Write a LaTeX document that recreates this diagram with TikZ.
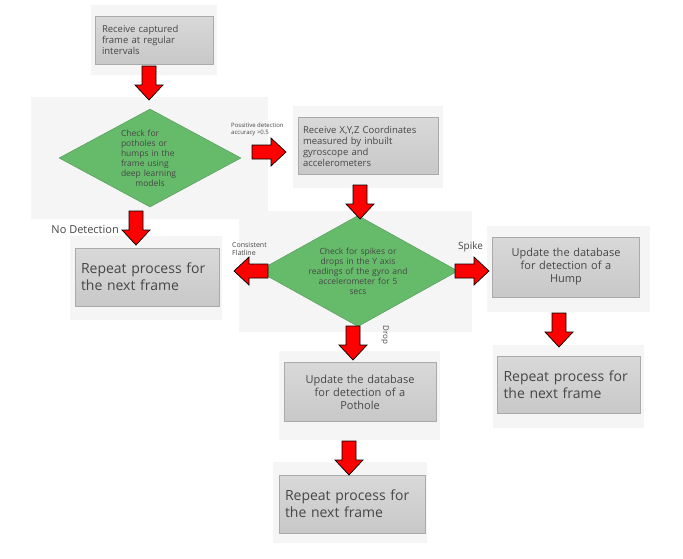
\documentclass[tikz,border=0pt]{standalone}
\usepackage{fontspec}
\setmainfont{Open Sans}
\usetikzlibrary{shapes.geometric}
\definecolor{panelgray}{RGB}{245,245,245}
\definecolor{boxgray}{RGB}{200,200,200}
\definecolor{diagreen}{RGB}{102,187,106}
\definecolor{txtgray}{RGB}{70,70,70}
\tikzset{
  panel/.style={fill=panelgray, draw=none},
  box/.style={draw=boxgray!85!black, line width=0.4pt, top color=boxgray!70, bottom color=boxgray, text=txtgray, align=left, inner sep=4pt},
  smallbox/.style={box, font=\fontsize{9.5}{11}\selectfont},
  bigbox/.style={box, font=\fontsize{14}{17}\selectfont},
  decision/.style={diamond, fill=diagreen, draw=diagreen!80!black, text=txtgray, align=center, aspect=1.8, inner sep=0pt, font=\fontsize{8.5}{10}\selectfont},
  lbl/.style={text=txtgray, font=\fontsize{7}{8}\selectfont, align=left, inner sep=0pt},
  fatarrow/.pic={
    \draw[fill=red, line width=0.7pt, line join=miter]
      (-7,-17) -- (7,-17) -- (7,2) -- (14,2) -- (0,17) -- (-14,2) -- (-7,2) -- cycle;
  }
}
\begin{document}
\begin{tikzpicture}[x=1pt, y=-1pt]
  \useasboundingbox (0,0) rectangle (683,558);
  % Background panels
  \fill[panel] (91,5) rectangle (217,75);
  \fill[panel] (31,97) rectangle (268,219);
  \fill[panel] (293,106) rectangle (443,188);
  \fill[panel] (239,211) rectangle (472,332);
  \fill[panel] (70,236) rectangle (222,320);
  \fill[panel] (487,226) rectangle (650,312);
  \fill[panel] (493,345) rectangle (644,428);
  \fill[panel] (279,351) rectangle (440,440);
  \fill[panel] (273,462) rectangle (427,543);
  % Steps
  \node[smallbox, minimum width=118pt, minimum height=48pt, text width=104pt] (capture) at (154,40) {Receive captured\\frame at regular\\intervals};
  \node[decision, minimum width=182pt, minimum height=98pt, text width=58pt] (detect) at (150,158) {\raggedright Check for\\potholes or\\humps in the\\frame using\\deep learning\\models};
  \node[smallbox, minimum width=140pt, minimum height=57pt, text width=130pt] (coords) at (368,146) {Receive X,Y,Z Coordinates\\measured by inbuilt\\gyroscope and\\accelerometers};
  \node[decision, minimum width=176pt, minimum height=98pt, text width=116pt] (spikes) at (358,271) {Check for spikes or\\drops in the Y axis\\readings of the gyro and\\accelerometer for 5\\secs};
  \node[bigbox, minimum width=144pt, minimum height=58pt, text width=132pt] (repeatA) at (147,277) {Repeat process for\\the next frame};
  \node[box, font=\fontsize{11}{13}\selectfont, align=center, minimum width=147pt, minimum height=60pt, text width=137pt] (hump) at (566,267) {Update the database\\for detection of a\\Hump};
  \node[bigbox, minimum width=143pt, minimum height=57pt, text width=131pt] (repeatB) at (569,385) {Repeat process for\\the next frame};
  \node[box, font=\fontsize{11}{13}\selectfont, align=center, minimum width=152pt, minimum height=59pt, text width=142pt] (pothole) at (360,392) {Update the database\\for detection of a\\Pothole};
  \node[bigbox, minimum width=146pt, minimum height=58pt, text width=134pt] (repeatC) at (352,504) {Repeat process for\\the next frame};
  % Connectors
  \pic at (149,83) {fatarrow};
  \pic[rotate=90] at (269,152) {fatarrow};
  \pic at (360,202) {fatarrow};
  \pic at (136,228) {fatarrow};
  \pic[rotate=-90] at (251,271) {fatarrow};
  \pic[rotate=90] at (472,271) {fatarrow};
  \pic at (559,330) {fatarrow};
  \pic at (353,343) {fatarrow};
  \pic at (349,458) {fatarrow};
  % Labels
  \node[lbl, anchor=south west, font=\fontsize{6}{7}\selectfont] (lpos) at (231,136) {Possitive detection\\accuracy >0.5};
  \node[lbl, anchor=east, font=\fontsize{11}{13}\selectfont] (lno) at (119,230) {No Detection};
  \node[lbl, anchor=south west] (lflat) at (232,256) {Consistent\\Flatline};
  \node[lbl, anchor=west, font=\fontsize{10}{12}\selectfont] (lspike) at (458,247) {Spike};
  \node[lbl, rotate=-90, font=\fontsize{8}{10}\selectfont] (ldrop) at (385,335) {Drop};
\end{tikzpicture}
\end{document}
